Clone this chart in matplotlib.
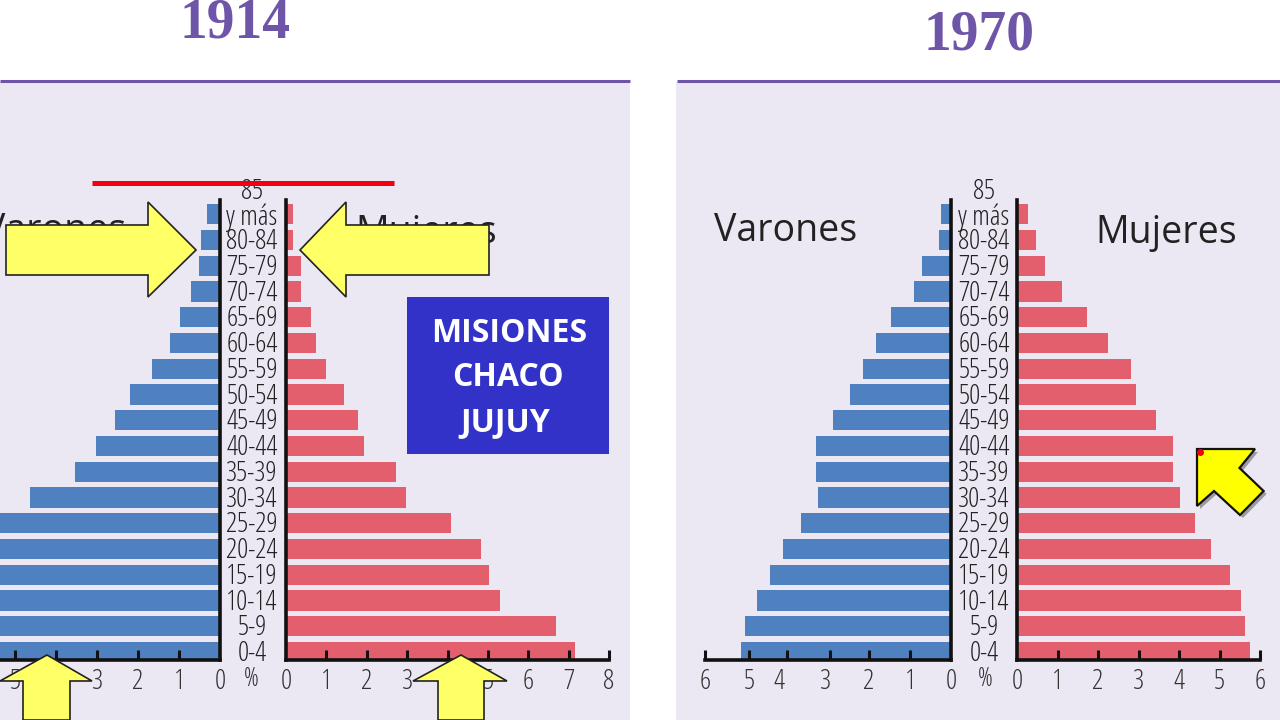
"""Piramides de poblacion 1914 / 1970, redibujadas desde la captura."""
import matplotlib
matplotlib.use("Agg")
import matplotlib.pyplot as plt
from matplotlib.patches import Polygon, Rectangle
from matplotlib.transforms import blended_transform_factory

plt.rcParams["font.family"] = ["Open Sans", "DejaVu Sans"]

W, H = 1280, 720

# grupos de edad, de abajo hacia arriba
AGES = ["0-4", "5-9", "10-14", "15-19", "20-24", "25-29", "30-34", "35-39", "40-44",
        "45-49", "50-54", "55-59", "60-64", "65-69", "70-74", "75-79", "80-84", "85\ny más"]

# 1914 (% de la poblacion). Los varones jovenes se salen del recorte: estimados
M_1914 = [7.2, 6.9, 6.4, 6.2, 5.9, 5.6, 4.64, 3.53, 3.02, 2.55, 2.19, 1.67, 1.21, 0.98, 0.70, 0.52, 0.47, 0.32]
F_1914 = [7.16, 6.68, 5.31, 5.04, 4.82, 4.09, 2.97, 2.73, 1.93, 1.79, 1.43, 1.00, 0.75, 0.61, 0.38, 0.38, 0.18, 0.18]

# 1970
M_1970 = [5.12, 5.03, 4.73, 4.41, 4.09, 3.67, 3.25, 3.30, 3.30, 2.88, 2.46, 2.15, 1.82, 1.46, 0.90, 0.71, 0.30, 0.24]
F_1970 = [5.76, 5.63, 5.53, 5.26, 4.78, 4.40, 4.03, 3.84, 3.84, 3.42, 2.95, 2.82, 2.25, 1.72, 1.12, 0.69, 0.47, 0.26]

TICKS_M_1914 = [0, 1, 2, 3, 4, 5]
TICKS_F_1914 = [0, 1, 2, 3, 4, 5, 6, 7, 8]
TICKS_M_1970 = [0, 1, 2, 2.95, 4, 4.93, 6]
LABELS_M_1970 = [0, 1, 2, 3.07, 4.19, 4.92, 6]     # en el original no caen sobre la marca
TICKS_F_1970 = [0, 1, 2, 3, 4, 5, 6]

BLUE = "#4f81c1"
RED = "#e35f6e"
PANEL = "#ece8f3"
PURPLE = "#6f55a8"
TXT = "#222222"
Y0_PX, Y_STEP = 652, 25.75   # centro de la barra 0-4 y paso entre barras
BASE_PX, TOP_PX = 660, 200
PX_UNIT = 41


def px_axes(fig, x0, x1, y0, y1, z=2):
    ax = fig.add_axes([x0 / W, 1 - y1 / H, (x1 - x0) / W, (y1 - y0) / H], zorder=z)
    ax.patch.set_alpha(0)
    return ax


def half_pyramid(fig, x_zero, x_end, values, ticks, labels=None, male=True):
    ax = px_axes(fig, min(x_zero, x_end), max(x_zero, x_end), TOP_PX, BASE_PX)
    span = abs(x_end - x_zero) / PX_UNIT
    ax.set_xlim(span, 0) if male else ax.set_xlim(0, span)
    ax.set_ylim((Y0_PX - BASE_PX) / Y_STEP, (Y0_PX - TOP_PX) / Y_STEP)
    ax.barh(range(len(AGES)), values, height=0.78, color=BLUE if male else RED, linewidth=0)
    for s in ax.spines.values():
        s.set_visible(False)
    side = "right" if male else "left"
    for name in (side, "bottom"):
        ax.spines[name].set_visible(True)
        ax.spines[name].set_linewidth(2.6)
        ax.spines[name].set_color("#111111")
    ax.set_yticks([])
    # marcas como minor, numeros como major (a veces no coinciden)
    pos = labels if labels is not None else ticks
    ax.set_xticks(pos)
    ax.set_xticklabels([str(i) for i in range(len(pos))], fontsize=20, color="#333333",
                       stretch="condensed")
    ax.tick_params(axis="x", which="major", length=0, pad=6)
    ax.xaxis.remove_overlapping_locs = False
    ax.set_xticks(ticks[1:], minor=True)
    ax.tick_params(axis="x", which="minor", direction="in", length=7.5, width=2.2, color="#111111")
    return ax


def age_labels(ax, overlay, x_center):
    tr = blended_transform_factory(overlay.transData, ax.transData)
    for i, lab in enumerate(AGES):
        # la ultima etiqueta son dos lineas y sube por encima de su barra
        y = i - 0.08 if "\n" not in lab else i + 0.36
        ax.text(x_center, y, lab, transform=tr, ha="center", va="center", fontsize=20,
                linespacing=0.85, stretch="condensed", color=TXT, clip_on=False, zorder=6)


fig = plt.figure(figsize=(W / 100, H / 100), dpi=100, facecolor="white")

# fondo: paneles y filetes
bg = px_axes(fig, 0, W, 0, H, z=0)
bg.set_xlim(0, W)
bg.set_ylim(H, 0)
bg.axis("off")
bg.add_patch(Rectangle((0, 82), 630, 638, color=PANEL, lw=0))
bg.add_patch(Rectangle((676, 82), 604, 638, color=PANEL, lw=0))
bg.plot([0, 630], [81, 81], color=PURPLE, lw=2.2, solid_capstyle="butt")
bg.plot([677, 1280], [81, 81], color=PURPLE, lw=2.2, solid_capstyle="butt")
bg.text(235, 38, "1914", family="Liberation Serif", weight="bold", fontsize=40, color=PURPLE,
        ha="center", va="baseline")
bg.text(979, 49, "1970", family="Liberation Serif", weight="bold", fontsize=40, color=PURPLE,
        ha="center", va="baseline")
for label, x, y in [("Varones", 786, 231), ("Mujeres", 1166, 233), ("Varones", 55, 231), ("Mujeres", 426, 233)]:
    bg.text(x, y, label, fontsize=27, color="#222222", ha="center", va="center")

# capa de encima: flechas y recuadro
top = px_axes(fig, 0, W, 0, H, z=5)
top.set_xlim(0, W)
top.set_ylim(H, 0)
top.axis("off")

ax_m14 = half_pyramid(fig, 220, 0, M_1914, TICKS_M_1914)
ax_f14 = half_pyramid(fig, 286, 609, F_1914, TICKS_F_1914, male=False)
ax_m70 = half_pyramid(fig, 951, 705, M_1970, TICKS_M_1970, labels=LABELS_M_1970)
ax_f70 = half_pyramid(fig, 1017, 1260, F_1970, TICKS_F_1970, male=False)
age_labels(ax_m14, top, 252)
age_labels(ax_m70, top, 984)
bg.text(251, 680, "%", fontsize=18, stretch="condensed", color="#333333", ha="center", va="center")
bg.text(985, 680, "%", fontsize=18, stretch="condensed", color="#333333", ha="center", va="center")

YELLOW_SOFT = "#ffff66"
ARROWS = [
    [(6, 225), (148, 225), (148, 202), (196, 250), (148, 297), (148, 275), (6, 275)],
    [(489, 225), (346, 225), (346, 202), (300, 250), (346, 297), (346, 275), (489, 275)],
    [(23, 720), (23, 681), (0, 681), (47, 655), (92, 681), (70, 681), (70, 720)],
    [(438, 720), (438, 681), (413, 681), (461, 655), (507, 681), (484, 681), (484, 720)],
]
for pts in ARROWS:
    top.add_patch(Polygon(pts, closed=True, fc=YELLOW_SOFT, ec="#222222", lw=1.2))

top.plot([92, 394], [183, 183], color="#f00010", lw=3.6, solid_capstyle="butt")

top.add_patch(Rectangle((407, 297), 202, 157, color="#3232c8", lw=0))
for label, x, y in [("MISIONES", 509, 333), ("CHACO", 508, 378), ("JUJUY", 505, 423)]:
    top.text(x, y, label, weight="bold", fontsize=23, color="white", ha="center", va="center")

# cursor de la presentacion
CURSOR = [(1197, 449), (1255, 449), (1239.5, 468), (1263.6, 491), (1240, 515), (1214, 491), (1197, 506)]
top.add_patch(Polygon([(x + 3, y + 3) for x, y in CURSOR], closed=True, fc="#00000055", lw=0))
top.add_patch(Polygon(CURSOR, closed=True, fc="#ffff00", ec="#111111", lw=1.6))
top.plot([1200], [452], "o", color="#f00010", ms=4)

fig.savefig("out.png", dpi=100)
